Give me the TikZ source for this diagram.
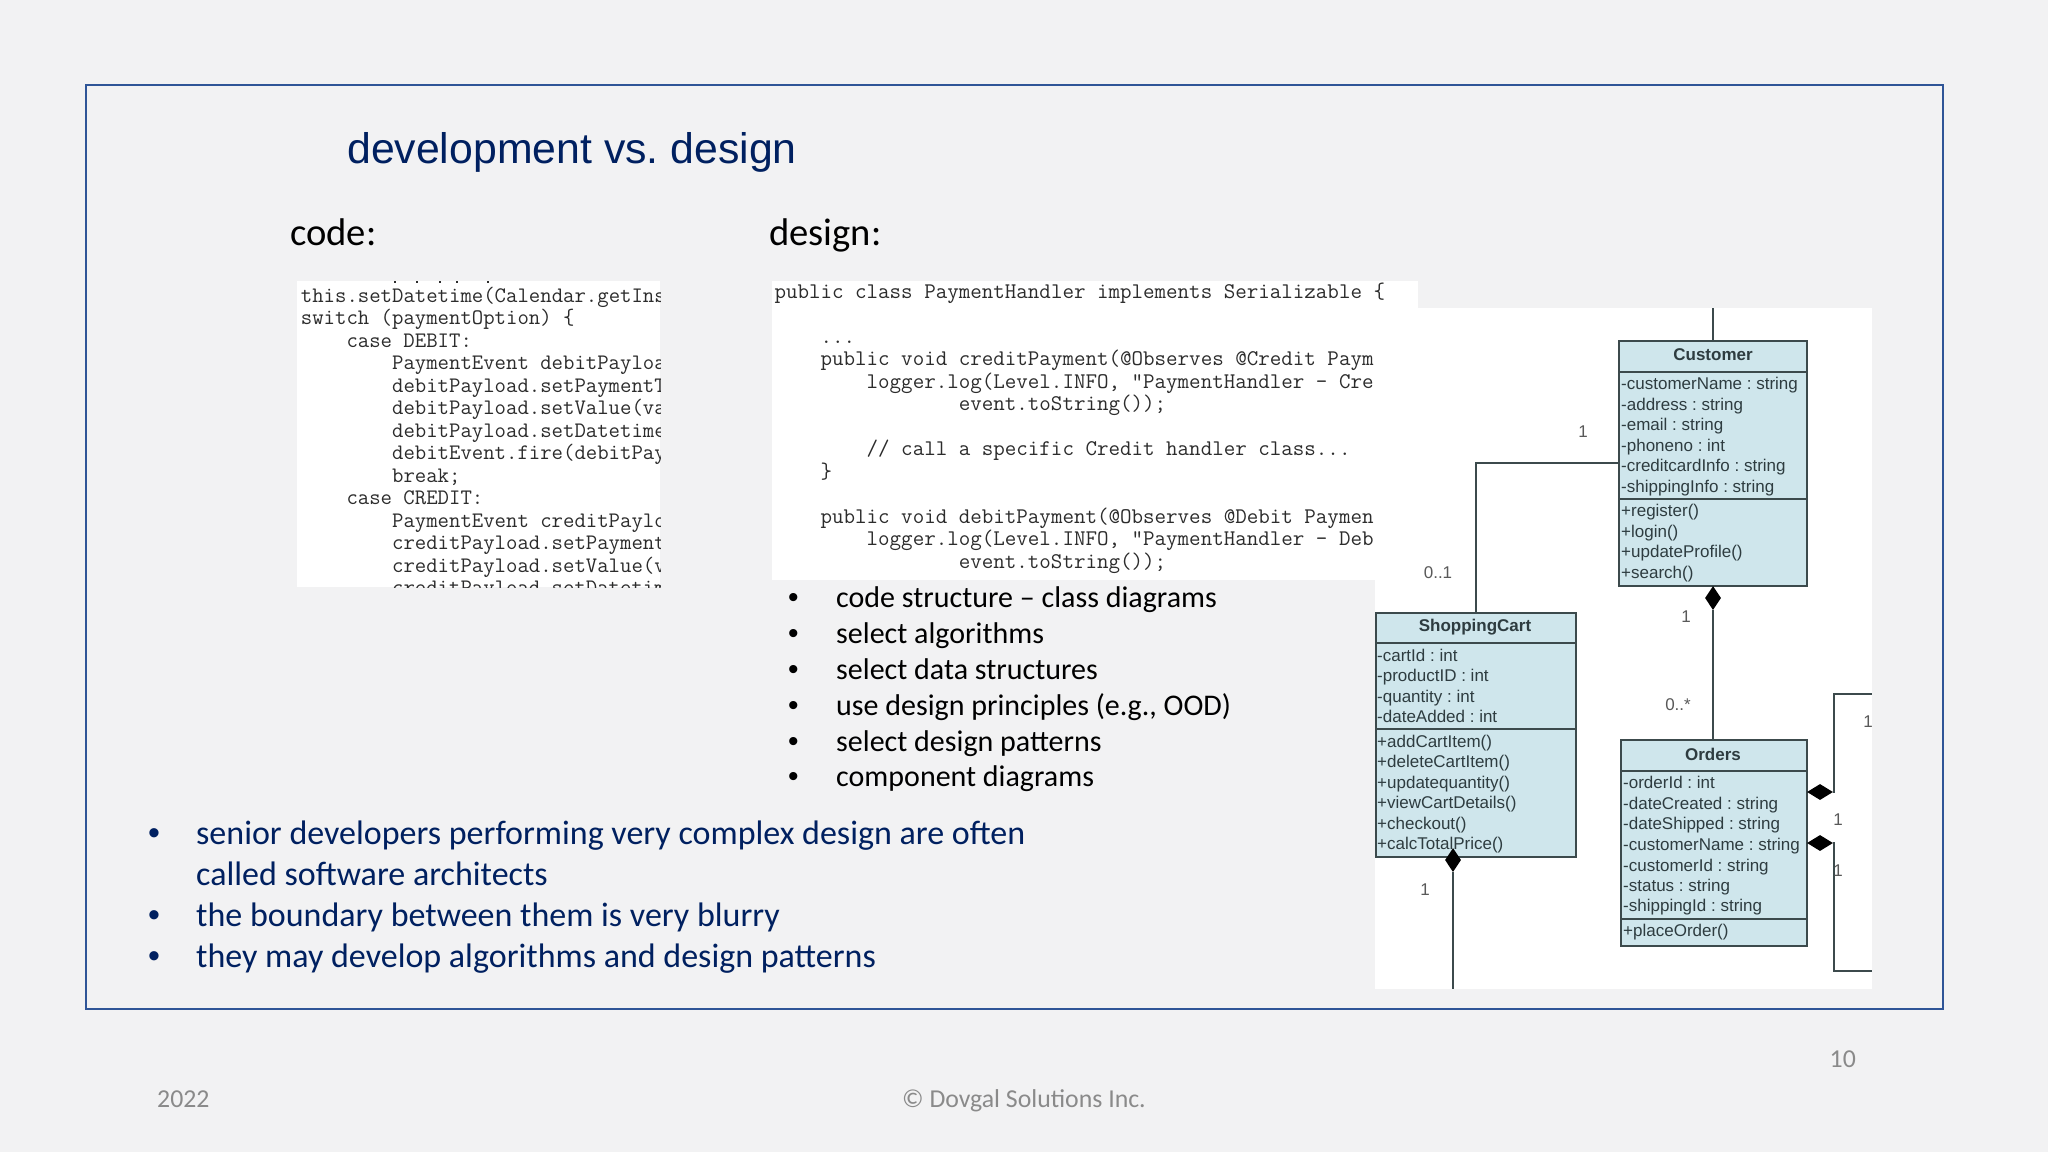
\documentclass[tikz,border=0pt]{standalone}
\usepackage{fontspec}
\setmainfont{Carlito}
\newfontfamily\arialfont{Liberation Sans}
\usetikzlibrary{positioning,shapes.geometric}
\definecolor{slidebg}{HTML}{F2F2F3}
\definecolor{framecol}{HTML}{2F5597}
\definecolor{navy}{HTML}{002060}
\definecolor{footcol}{HTML}{8A8A8A}
\definecolor{classfill}{HTML}{CFE6EC}
\definecolor{classline}{HTML}{3C4A4C}
\definecolor{classink}{HTML}{2E3C40}
\definecolor{codeink}{HTML}{2C2C2C}
\frenchspacing
\tikzset{
	codeline/.style={anchor=base west,inner sep=0pt,text=codeink,font=\ttfamily\fontsize{22.14}{24}\selectfont},
	listtext/.style={anchor=base west,inner sep=0pt,font=\fontsize{30}{35}\selectfont},
	bluetext/.style={anchor=base west,inner sep=0pt,text=navy,font=\fontsize{34}{40}\selectfont},
	listdot/.style={anchor=base west,inner sep=0pt,font=\arialfont\fontsize{30}{35}\selectfont},
	foottext/.style={anchor=base,inner sep=0pt,text=footcol,font=\fontsize{25.8}{30}\selectfont},
	classbox/.style={draw=classline,line width=2pt,fill=classfill,inner sep=0pt},
	classtitle/.style={inner sep=0pt,text=classink,font=\arialfont\bfseries\fontsize{17}{20}\selectfont},
	classtext/.style={anchor=base west,inner sep=0pt,text=classink,font=\arialfont\fontsize{17}{20}\selectfont},
	multi/.style={inner sep=0pt,text=black!65,font=\arialfont\fontsize{17}{20}\selectfont},
	umldiamond/.style={diamond,fill=black,inner sep=0pt,aspect=1},
	umlline/.style={draw=classline,line width=2pt}
}

\begin{document}
\begin{tikzpicture}[x=1pt,y=-1pt]
		\useasboundingbox (0,0) rectangle (2048,1152);
		\fill[slidebg](0,0) rectangle (2048,1152);
		\draw[framecol,line width=2pt](86,85) rectangle (1943,1009);

		\node[anchor=base west,inner sep=0pt,text=navy,font=\arialfont\fontsize{42.8}{50}\selectfont] (title) at (347,163) {development vs. design};
		\node[anchor=base west,inner sep=0pt,font=\fontsize{38.6}{44}\selectfont] (codehead) at (290,245) {code:};
		\node[anchor=base west,inner sep=0pt,font=\fontsize{38.6}{44}\selectfont] (designhead) at (769,245) {design:};

		\fill[white](297,281) rectangle (660,587);
		\begin{scope}
			\clip (297,281) rectangle (660,587);
			\foreach \x in{395,417,440,457,488}
			\draw[codeink,line width=1.5pt](\x,281)--(\x,283);
			\foreach \n/\m/\txt in{0/0/{this.setDatetime(Calendar.getIns},1/0/{switch (paymentOption) \{},2/4/{case DEBIT:},3/8/{PaymentEvent debitPayloa},4/8/{debitPayload.setPaymentT},5/8/{debitPayload.setValue(va},6/8/{debitPayload.setDatetime},7/8/{debitEvent.fire(debitPay},8/8/{break;},9/4/{case CREDIT:},10/8/{PaymentEvent creditPaylo},11/8/{creditPayload.setPayment},12/8/{creditPayload.setValue(v},13/8/{creditPayload.setDatetim}}{
				\node[codeline] (codea\n) at ({300.7+11.4*\m},{302+22.5*\n}) {\txt};
			}
		\end{scope}

		\fill[white](772,281) rectangle (1418,580);
		\begin{scope}
			\clip (772,281) rectangle (1375,580) (1375,281) rectangle (1418,308);
			\foreach \n/\m/\txt in{0/0/{public class PaymentHandler implements Serializable \{},2/4/{...},3/4/{public void creditPayment(@Observes @Credit Paym},4/8/{logger.log(Level.INFO, "PaymentHandler - Cre},5/16/{event.toString());},7/8/{// call a specific Credit handler class...},8/4/{\}},10/4/{public void debitPayment(@Observes @Debit Paymen},11/8/{logger.log(Level.INFO, "PaymentHandler - Deb},12/16/{event.toString());}}{
				\node[codeline,font=\ttfamily\fontsize{22.37}{24}\selectfont] (codeb\n) at ({774.3+11.52*\m},{298+22.5*\n}) {\txt};
			}
		\end{scope}

		\fill[white](1375,308) rectangle (1872,989);

		\foreach \n/\y/\txt in{1/607/{code structure – class diagrams},2/643/{select algorithms},3/679/{select data structures},4/715/{use design principles (e.g., OOD)},5/751/{select design patterns},6/786/{component diagrams}}{
			\node[listdot] (dotb\n) at (788,\y) {•};
			\node[listtext] (itemb\n) at (836,\y) {\txt};
		}
		\foreach \n/\y/\txt in{1/844/{senior developers performing very complex design are often},3/926/{the boundary between them is very blurry},4/967/{they may develop algorithms and design patterns}}{
			\node[listdot,text=navy,font=\arialfont\fontsize{34}{40}\selectfont] (dotc\n) at (148,\y) {•};
			\node[bluetext] (itemc\n) at (196,\y) {\txt};
		}
		\node[bluetext] (itemc2) at (196,885) {called software architects};

		\node[foottext,anchor=base west] (year) at (157,1107) {2022};
		\node[foottext] (owner) at (1024,1107) {© Dovgal Solutions Inc.};
		\node[foottext,anchor=base east] (pageno) at (1856,1067) {10};

		\coordinate (topend) at (1713,308);
		\coordinate (custleft) at (1619,463);
		\coordinate (cartend) at (1453,989);
		\coordinate (upturn) at (1834,694);
		\coordinate (upend) at (1872,694);
		\coordinate (downturn) at (1834,971);
		\coordinate (downend) at (1872,971);

		\node[classbox,minimum width=188,minimum height=245] (customer) at (1713,463.5) {};
		\node[classbox,minimum width=200,minimum height=244] (cart) at (1476,735) {};
		\node[classbox,minimum width=186,minimum height=206] (orders) at (1714,843) {};

		\draw[umlline](topend)--(customer.north);
		\draw[umlline](custleft)-|(cart.north);
		\draw[umlline](customer.west|-0,372)--(customer.east|-0,372);
		\draw[umlline](customer.west|-0,499)--(customer.east|-0,499);
		\draw[umlline](cart.west|-0,643)--(cart.east|-0,643);
		\draw[umlline](cart.west|-0,729)--(cart.east|-0,729);
		\draw[umlline](orders.west|-0,771)--(orders.east|-0,771);
		\draw[umlline](orders.west|-0,919)--(orders.east|-0,919);

		\node[classtitle] (customername) at (1713,355) {Customer};
		\node[classtitle] (cartname) at (1475,627) {ShoppingCart};
		\node[classtitle] (ordersname) at (1713,754) {Orders};

		\foreach \n/\y/\txt in{1/389/{-customerName : string},2/410/{-address : string},3/430/{-email : string},4/451/{-phoneno : int},5/471/{-creditcardInfo : string},6/492/{-shippingInfo : string},7/516/{+register()},8/537/{+login()},9/557/{+updateProfile()},10/578/{+search()}}{
			\node[classtext] (customertext\n) at (1621,\y) {\txt};
		}
		\foreach \n/\y/\txt in{1/661/{-cartId : int},2/681/{-productID : int},3/702/{-quantity : int},4/722/{-dateAdded : int},5/747/{+addCartItem()},6/767/{+deleteCartItem()},7/788/{+updatequantity()},8/808/{+viewCartDetails()},9/829/{+checkout()},10/849/{+calcTotalPrice()}}{
			\node[classtext] (carttext\n) at (1377,\y) {\txt};
		}
		\foreach \n/\y/\txt in{1/788/{-orderId : int},2/809/{-dateCreated : string},3/829/{-dateShipped : string},4/850/{-customerName : string},5/871/{-customerId : string},6/891/{-status : string},7/911/{-shippingId : string},8/936/{+placeOrder()}}{
			\node[classtext] (orderstext\n) at (1623,\y) {\txt};
		}

		\node[umldiamond,minimum width=16,minimum height=24] (custdiamond) at (1713,598) {};
		\node[umldiamond,minimum width=16,minimum height=24] (cartdiamond) at (1453,860) {};
		\node[umldiamond,minimum width=26,minimum height=16] (ordersup) at (1820,792) {};
		\node[umldiamond,minimum width=26,minimum height=16] (ordersdown) at (1820,843) {};

		\draw[umlline,line width=1.5pt](custdiamond.south)--(custdiamond.south|-orders.north);
		\draw[umlline,line width=1.5pt](cartdiamond.south)--(cartend);
		\draw[umlline](ordersup.east)-|(upturn)--(upend);
		\draw[umlline](ordersdown.east)-|(downturn)--(downend);

		\node[multi] (multia) at (1583,432) {1};
		\node[multi] (multib) at (1438,573) {0..1};
		\node[multi] (multic) at (1686,617) {1};
		\node[multi] (multid) at (1678,705) {0..*};
		\node[multi] (multie) at (1425,890) {1};
		\node[multi] (multif) at (1868,722) {1};
		\node[multi] (multig) at (1838,820) {1};
		\node[multi] (multih) at (1838,871) {1};
	\end{tikzpicture}
\end{document}
